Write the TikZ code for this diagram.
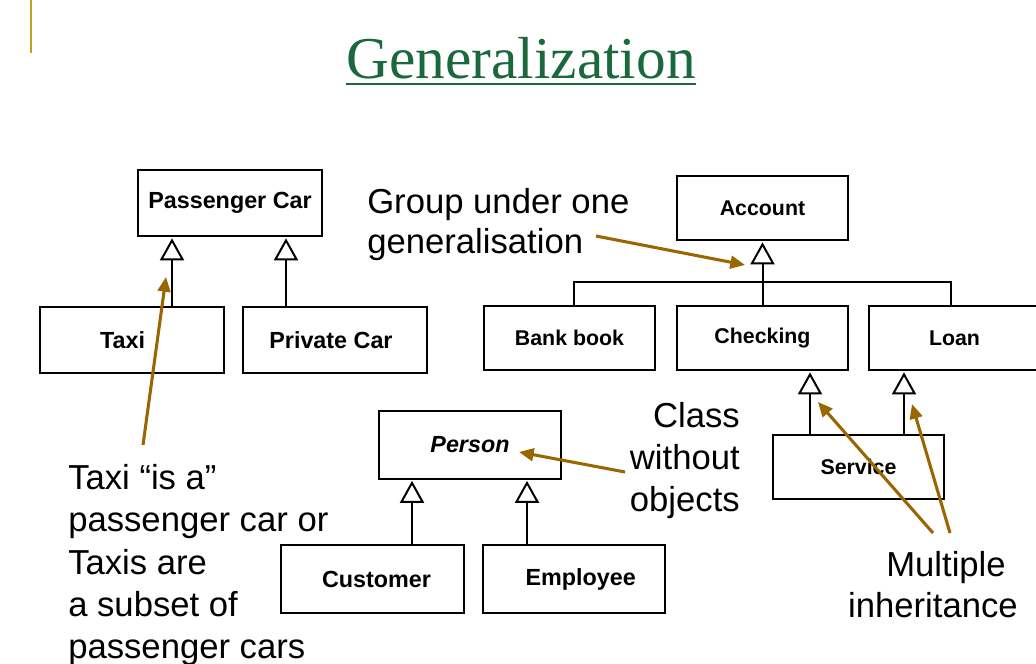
\documentclass[tikz,border=0pt]{standalone}
\usepackage{fontspec}
\setmainfont{Liberation Sans}
\newfontfamily\titlefont{Liberation Serif}
\usetikzlibrary{arrows.meta,calc}
\definecolor{titlegreen}{RGB}{25,105,60}
\definecolor{barGold}{RGB}{200,160,25}
\definecolor{annobrown}{RGB}{153,102,0}
\begin{document}
\begin{tikzpicture}[x=0.75pt,y=-0.75pt,
  cls/.style={draw, line width=1.5pt, inner sep=0pt, font=\fontsize{16}{19}\selectfont\bfseries},
  pcbox/.style={cls, minimum width=138pt, minimum height=49.5pt, font=\fontsize{17.5}{20}\selectfont\bfseries},
  acbox/.style={cls, minimum width=128.25pt, minimum height=48pt},
  prbox/.style={cls, minimum width=137pt, minimum height=51pt, font=\fontsize{17.5}{20}\selectfont\bfseries},
  gen/.style={draw, line width=1.5pt, -{Triangle[open,length=16.5pt,width=18pt,line width=1.5pt]}, shorten >=1pt},
  note/.style={inner sep=0pt, font=\fontsize{26}{31}\selectfont},
  pointer/.style={draw=annobrown, line width=2.3pt, -{Triangle[length=11pt,width=9.5pt]}}]
\useasboundingbox (0,0) rectangle (1036,664);
\fill[white] (0,0) rectangle (1036,664);

% decorative bar
\draw[barGold, line width=1.5pt] (31,0) -- (31,53);

% title
\node[inner sep=0pt, anchor=base, font=\titlefont\fontsize{44.5}{50}\selectfont, text=titlegreen] (title) at (521,78) {Generalization};
\draw[titlegreen, line width=1.6pt] ($(title.base west)+(0,6)$) -- ($(title.base east)+(0,6)$);

% classes
\node[pcbox] (pc) at (230,203) {Passenger Car};
\node[pcbox] (taxi) at (132,340) {\hspace*{-14pt}Taxi};
\node[pcbox] (priv) at (335,340) {\hspace*{-6pt}Private Car};

\node[acbox] (account) at (762.5,208) {Account};
\node[acbox] (bank) at (569.5,338) {Bank book};
\node[acbox] (checking) at (762.5,338) {Checking};
\node[acbox] (loan) at (954.5,338) {Loan};
\node[acbox] (service) at (858.5,467) {Service};

\node[prbox] (person) at (470,444.5) {\itshape Person};
\node[prbox] (customer) at (372.5,579) {\hspace*{6pt}Customer};
\node[prbox] (employee) at (574,579) {\hspace*{10pt}Employee};

% generalizations
\coordinate (g1) at ($(taxi.north)+(40,0)$);
\draw[gen] (g1) -- (g1 |- pc.south);
\coordinate (g2) at ($(priv.north)+(-49,0)$);
\draw[gen] (g2) -- (g2 |- pc.south);

\coordinate (j) at ($(checking.north)+(0,-23)$);
\draw[line width=1.5pt] ($(bank.north)+(4.5,0)$) |- (j) -| ($(loan.north)+(-3.5,0)$);
\draw[gen] (checking.north) -- (account.south);

\coordinate (g3) at ($(service.north)+(-48.5,0)$);
\draw[gen] (g3) -- (g3 |- checking.south);
\coordinate (g4) at ($(service.north)+(45.5,0)$);
\draw[gen] (g4) -- (g4 |- loan.south);

\coordinate (g5) at ($(customer.north)+(39.5,0)$);
\draw[gen] (g5) -- (g5 |- person.south);
\coordinate (g6) at ($(employee.north)+(-47,0)$);
\draw[gen] (g6) -- (g6 |- person.south);

% notes
\node[note, anchor=base west] (grp1) at (367,213) {Group under one};
\node[note, anchor=base west] (grp2) at (367,253) {generalisation};

\node[note, anchor=base west] (tx1) at (68,489) {Taxi “is a”};
\node[note, anchor=base west] (tx2) at (68,531) {passenger car or};
\node[note, anchor=base west] (tx3) at (68,574) {Taxis are};
\node[note, anchor=base west] (tx4) at (68,616) {a subset of};
\node[note, anchor=base west] (tx5) at (68,658) {passenger cars};

\node[note, anchor=base east] (cl1) at (740,427) {Class};
\node[note, anchor=base east] (cl2) at (740,469) {without};
\node[note, anchor=base east] (cl3) at (740,511) {objects};

\node[note, anchor=base east] (mi1) at (1006,576) {Multiple};
\node[note, anchor=base east] (mi2) at (1018,617) {inheritance};

% pointers
\coordinate (p1s) at (143,445); \coordinate (p1e) at (166,277);
\draw[pointer] (p1s) -- (p1e);
\coordinate (p2s) at (596,236); \coordinate (p2e) at (745,265);
\draw[pointer] (p2s) -- (p2e);
\coordinate (p3s) at (625,472); \coordinate (p3e) at (519,452);
\draw[pointer] (p3s) -- (p3e);
\coordinate (p4s) at (933,533); \coordinate (p4e) at (818,402);
\draw[pointer] (p4s) -- (p4e);
\coordinate (p5s) at (950,533); \coordinate (p5e) at (912,404);
\draw[pointer] (p5s) -- (p5e);
\end{tikzpicture}
\end{document}
